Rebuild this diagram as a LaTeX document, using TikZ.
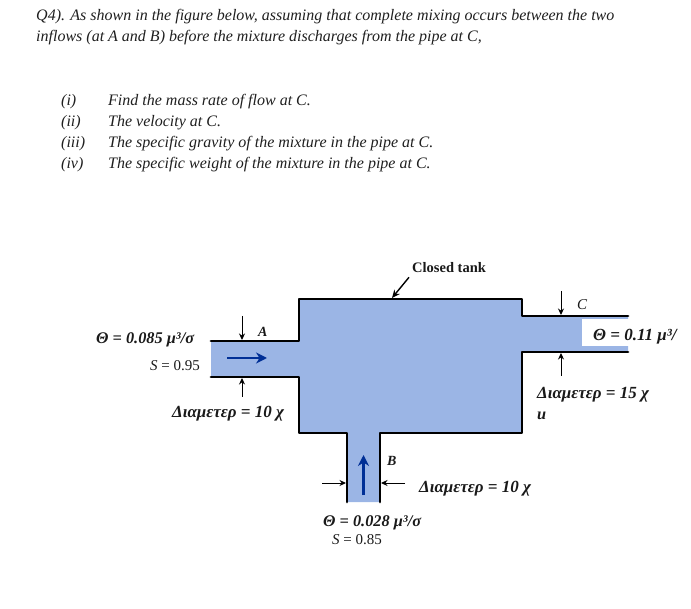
\documentclass[tikz,border=0pt]{standalone}
\usepackage{fontspec}
\setmainfont{Liberation Serif}
\usetikzlibrary{arrows.meta}
\definecolor{fluid}{RGB}{155,181,229}
\definecolor{flowblue}{RGB}{0,47,150}
\tikzset{
  x=1pt,y=-1pt,
  body/.style={anchor=west,inner sep=0pt,font=\fontsize{16}{18}\selectfont\itshape,text=black!88},
  lab/.style={anchor=west,inner sep=0pt,font=\fontsize{16.3}{18}\selectfont\itshape\bfseries,text=black!90},
  dimlab/.style={anchor=west,inner sep=0pt,font=\fontsize{17}{19}\selectfont\itshape\bfseries,text=black!90},
  plain/.style={anchor=west,inner sep=0pt,font=\fontsize{15}{17}\selectfont,text=black!90},
  tag/.style={anchor=west,inner sep=0pt,font=\fontsize{14}{16}\selectfont\itshape\bfseries,text=black!90},
  wall/.style={line width=2.8pt,line cap=round,line join=round},
  dim/.style={line width=1pt,-{Stealth[length=6.5pt,width=6pt]}},
  flow/.style={line width=2.6pt,flowblue,-{Stealth[length=11pt,width=11pt]}},
  leader/.style={line width=1.4pt,-{Stealth[length=8pt,width=7pt]}}
}
\begin{document}
\begin{tikzpicture}
\useasboundingbox (0,0) rectangle (691,609);
% text
\node[body] (q1) at (36,16.5) {Q4). As shown in the figure below, assuming that complete mixing occurs between the two};
\node[body] (q2) at (36,37.5) {inflows (at A and B) before the mixture discharges from the pipe at C,};
\node[body] (n1) at (61,101.5) {(i)};
\node[body] (n2) at (61,122.5) {(ii)};
\node[body] (n3) at (61,143.5) {(iii)};
\node[body] (n4) at (61,164.5) {(iv)};
\node[body] (t1) at (108,101.5) {Find the mass rate of flow at C.};
\node[body] (t2) at (108,122.5) {The velocity at C.};
\node[body] (t3) at (108,143.5) {The specific gravity of the mixture in the pipe at C.};
\node[body] (t4) at (108,164.5) {The specific weight of the mixture in the pipe at C.};
% fluid
\fill[fluid] (211,341) -- (299,341) -- (299,299) -- (522,299) -- (522,316) -- (628,316) -- (628,352) -- (522,352) -- (522,433) -- (380,433) -- (380,502) -- (347,502) -- (347,433) -- (299,433) -- (299,377) -- (211,377) -- cycle;
\fill[white] (582,319) rectangle (629,346);
% walls
\draw[wall] (211,341) -- (299,341) -- (299,299) -- (522,299) -- (522,316) -- (628,316);
\draw[wall] (628,352) -- (522,352) -- (522,433) -- (380,433) -- (380,502);
\draw[wall] (347,502) -- (347,433) -- (299,433) -- (299,377) -- (211,377);
% coordinates for arrows
\coordinate (a1s) at (242,316); \coordinate (a1e) at (242,340);
\coordinate (a2s) at (242,397); \coordinate (a2e) at (242,378);
\coordinate (c1s) at (561,291); \coordinate (c1e) at (561,315);
\coordinate (c2s) at (561,376); \coordinate (c2e) at (561,353);
\coordinate (b1s) at (322,483); \coordinate (b1e) at (346,483);
\coordinate (b2s) at (405,483); \coordinate (b2e) at (381,483);
\coordinate (fAs) at (227,358); \coordinate (fAe) at (267,358);
\coordinate (fBs) at (363.5,495); \coordinate (fBe) at (363.5,455);
\coordinate (tk) at (392,298);
\draw[dim] (a1s) -- (a1e);
\draw[dim] (a2s) -- (a2e);
\draw[dim] (c1s) -- (c1e);
\draw[dim] (c2s) -- (c2e);
\draw[dim] (b1s) -- (b1e);
\draw[dim] (b2s) -- (b2e);
\draw[flow] (fAs) -- (fAe);
\draw[flow] (fBs) -- (fBe);
% labels
\node[plain,font=\fontsize{14.5}{16}\selectfont\bfseries] (ct) at (412,268) {Closed tank};
\coordinate (ctl) at ([shift={(-3,4)}]ct.south west);
\draw[leader] (ctl) -- (tk);
\node[lab] (qa) at (96,340) {Θ = 0.085 μ³/σ};
\node[plain] (sa) at (150,365.5) {\textit{S} = 0.95};
\node[dimlab] (da) at (172,414) {Διαμετερ = 10 χ};
\node[tag] (la) at (258,332) {A};
\node[tag] (lb) at (387,461) {B};
\node[tag,font=\fontsize{15}{17}\selectfont\itshape] (lc) at (577,305) {C};
\node[dimlab] (qc) at (593,337) {Θ = 0.11 μ³/};
\node[dimlab] (dc) at (537,395) {Διαμετερ = 15 χ};
\node[lab] (uc) at (537,416) {u};
\node[dimlab] (db) at (419,489) {Διαμετερ = 10 χ};
\node[lab] (qb) at (323,523) {Θ = 0.028 μ³/σ};
\node[plain] (sb) at (332,540) {\textit{S} = 0.85};
\end{tikzpicture}
\end{document}
